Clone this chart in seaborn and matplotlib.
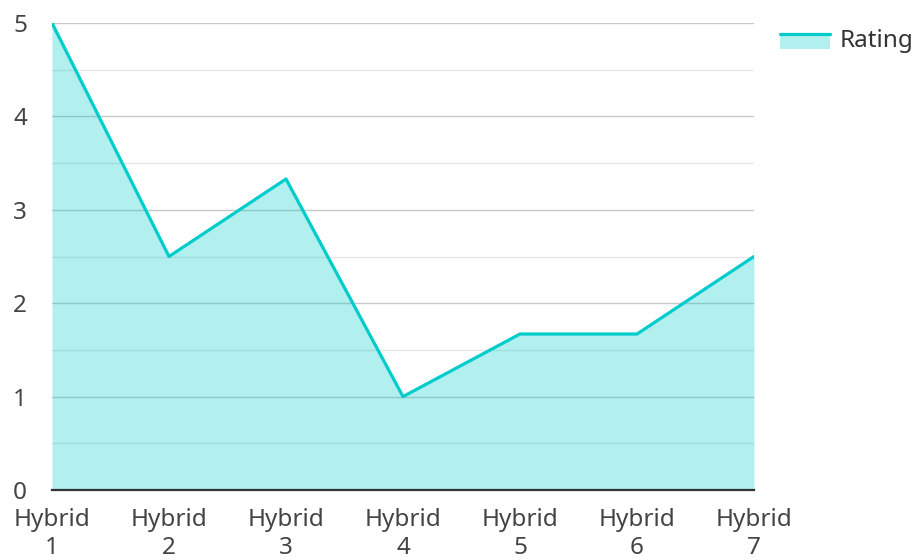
import matplotlib.pyplot as plt
import numpy as np
import pandas as pd
import seaborn as sns
from matplotlib.legend_handler import HandlerBase
from matplotlib.patches import Rectangle
from matplotlib.lines import Line2D
from matplotlib.ticker import MultipleLocator

# data
categories = ["Hybrid 1", "Hybrid 2", "Hybrid 3", "Hybrid 4", "Hybrid 5", "Hybrid 6", "Hybrid 7"]
ratings = [5, 2.5, 3.33, 1, 1.67, 1.67, 2.5]
series_name = "Rating"

line_color = "#00cccc"

sns.set_style("white")
plt.rcParams['font.family'] = ['Noto Sans', 'DejaVu Sans']

df = pd.DataFrame({"category": categories, "value": ratings})
df["pos"] = np.arange(len(df))

fig = plt.figure(figsize=(9.14, 5.6), dpi=100)
ax = fig.add_axes([52 / 914, 1 - 490 / 560, (754 - 52) / 914, (490 - 23) / 560])

ax.fill_between(df["pos"], df["value"], 0, color=line_color, alpha=0.3, linewidth=0, zorder=2)
sns.lineplot(data=df, x="pos", y="value", ax=ax, color=line_color, linewidth=2.3, zorder=3)

ax.set_xlim(0, len(df) - 1)
ax.set_ylim(0, 5)
ax.set_axisbelow(True)
ax.yaxis.set_major_locator(MultipleLocator(1))
ax.yaxis.set_minor_locator(MultipleLocator(0.5))
ax.grid(axis='y', which='major', color='#c8c8c8', linewidth=1)
ax.grid(axis='y', which='minor', color='#e6e6e6', linewidth=1)
ax.grid(axis='x', visible=False)

ax.set_xticks(df["pos"])
ax.set_xticklabels([c.replace(" ", "\n") for c in df["category"]], linespacing=1.22)
ax.tick_params(axis='x', length=0, pad=13, labelsize=17.5, labelcolor='#444444')
ax.tick_params(axis='y', length=0, pad=28, labelsize=17.5, labelcolor='#444444')
for lab in ax.get_yticklabels():
    lab.set_horizontalalignment('left')

for s in ['top', 'right', 'left']:
    ax.spines[s].set_visible(False)
ax.spines['bottom'].set_color('#333333')
ax.spines['bottom'].set_linewidth(1.6)
ax.spines['bottom'].set_zorder(4)
ax.set_xlabel("")
ax.set_ylabel("")


class AreaHandler(HandlerBase):
    def create_artists(self, legend, orig_handle, xdescent, ydescent, width, height, fontsize, trans):
        top = height * 0.75 - ydescent
        box = Rectangle((-xdescent, top - height * 0.9), width, height * 0.9,
                        facecolor=line_color, alpha=0.3, linewidth=0, transform=trans)
        ln = Line2D([-xdescent, -xdescent + width], [top, top], color=line_color,
                    linewidth=2.3, transform=trans)
        return [box, ln]


handle = Rectangle((0, 0), 1, 1)
fig.legend([handle], [series_name], handler_map={Rectangle: AreaHandler()},
           loc='upper left', bbox_to_anchor=(758 / 914, 1 - 7 / 560), frameon=False,
           fontsize=17.5, handlelength=2.05, handletextpad=0.42, labelcolor='#333333')

fig.savefig("out.png", dpi=100)
